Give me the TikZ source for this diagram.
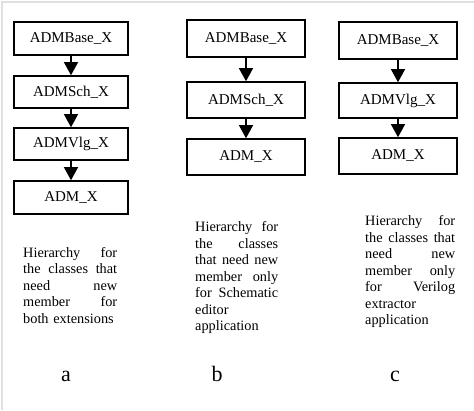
\documentclass[tikz,border=0pt]{standalone}
\usepackage{fontspec}
\setmainfont{Liberation Serif}
\usetikzlibrary{arrows.meta}
\newcommand\jline[2]{\leavevmode\hbox to #1{#2}}
\begin{document}
\begin{tikzpicture}[x=1pt,y=-1pt,
  cls/.style={draw,line width=1.6pt,minimum height=34pt,inner sep=0pt,
    font=\fontsize{15}{17}\selectfont},
  inh/.style={line width=1.4pt,-{Triangle[width=14pt,length=13pt]}},
  desc/.style={anchor=north west,inner sep=0pt,align=left,
    font=\fontsize{14.3}{16.5}\selectfont},
  lab/.style={anchor=base,inner sep=0pt,font=\fontsize{22}{24}\selectfont},
  frame/.style={draw=black!12,line width=2pt}]
\useasboundingbox (0,0) rectangle (474,410);
\draw[frame] (1.5,410) -- (1.5,1.5) -- (474,1.5);
% column a
\node[cls,minimum width=114pt,minimum height=33pt] (a1) at (71,38.5) {ADMBase\_X};
\node[cls,minimum width=114pt,minimum height=32pt] (a2) at (71,92) {ADMSch\_X};
\node[cls,minimum width=114pt,minimum height=32pt] (a3) at (71,144) {ADMVlg\_X};
\node[cls,minimum width=114pt,minimum height=33pt] (a4) at (71,197.5) {ADM\_X};
\draw[inh] (a1) -- (a2);
\draw[inh] (a2) -- (a3);
\draw[inh] (a3) -- (a4);
% column b
\node[cls,minimum width=118pt,minimum height=37pt] (b1) at (246,38.5) {ADMBase\_X};
\node[cls,minimum width=118pt,minimum height=36pt] (b2) at (246,100) {ADMSch\_X};
\node[cls,minimum width=118pt,minimum height=36pt] (b3) at (246,157) {ADM\_X};
\draw[inh] (b1) -- (b2);
\draw[inh] (b2) -- (b3);
% column c
\node[cls,minimum width=118pt,minimum height=37pt] (c1) at (398,40.5) {ADMBase\_X};
\node[cls,minimum width=118pt,minimum height=35pt] (c2) at (398,100.5) {ADMVlg\_X};
\node[cls,minimum width=118pt,minimum height=36pt] (c3) at (398,156) {ADM\_X};
\draw[inh] (c1) -- (c2);
\draw[inh] (c2) -- (c3);
% descriptions
\node[desc,text width=94pt] (da) at (23,247) {%
\jline{94pt}{Hierarchy\hfill for}\\
\jline{94pt}{the\hfill classes\hfill that}\\
\jline{94pt}{need\hfill new}\\
\jline{94pt}{member\hfill for}\\
both extensions};
\node[desc,text width=83pt] (db) at (195,221.5) {%
\jline{83pt}{Hierarchy\hfill for}\\
\jline{83pt}{the\hfill classes}\\
\jline{83pt}{that\hfill need\hfill new}\\
\jline{83pt}{member\hfill only}\\
\jline{83pt}{for\hfill Schematic}\\
editor\\
application};
\node[desc,text width=90pt] (dc) at (365,215.5) {%
\jline{90pt}{Hierarchy\hfill for}\\
\jline{90pt}{the\hfill classes\hfill that}\\
\jline{90pt}{need\hfill new}\\
\jline{90pt}{member\hfill only}\\
\jline{90pt}{for\hfill Verilog}\\
extractor\\
application};
% labels
\node[lab] (la) at (66,381) {a};
\node[lab] (lb) at (217,381) {b};
\node[lab] (lc) at (395,381) {c};
\end{tikzpicture}
\end{document}
